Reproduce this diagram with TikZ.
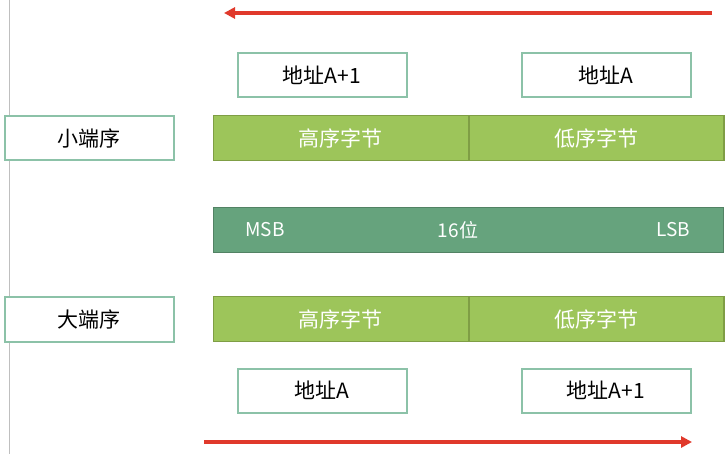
\documentclass[tikz,border=0pt]{standalone}
\usepackage{fontspec}
\setmainfont{Noto Sans CJK SC}
\usetikzlibrary{arrows.meta}
\definecolor{bord}{HTML}{8CC2A8}
\definecolor{barg}{HTML}{9DC55A}
\definecolor{bargd}{HTML}{7F9E45}
\definecolor{teal}{HTML}{66A37D}
\definecolor{reda}{HTML}{E0392B}
\tikzset{
 addr/.style={draw=bord,line width=2pt,fill=white,minimum width=169pt,minimum height=44pt,font=\fontsize{21}{24}\selectfont,inner sep=0pt},
 half/.style={draw=bargd,line width=1.5pt,fill=barg,minimum width=255pt,minimum height=45pt,text=white,font=\fontsize{21}{24}\selectfont,inner sep=0pt},
 redarrow/.style={draw=reda,line width=3.5pt,-{Triangle[length=11pt,width=11pt]}},
 wt/.style={text=white,font=\fontsize{19}{22}\selectfont}
}
\begin{document}
\begin{tikzpicture}[x=1pt,y=-1pt]
\useasboundingbox (0,0) rectangle (728,454);
\draw[gray!50,line width=1pt] (9,0) -- (9,454);
\coordinate (t1) at (712,13); \coordinate (t2) at (224,13);
\draw[redarrow] (t1) -- (t2);
\node[addr] (a1) at (322,75.5) {地址A+1};
\node[addr] (a2) at (606,75.5) {地址A};
\node[addr] (little) at (89,138.5) {小端序};
\node[half,anchor=west] (h1) at (212.5,138) {高序字节};
\node[half,anchor=west] (l1) at (468,138) {低序字节};
\node[draw=teal!80!black,line width=1.5pt,fill=teal,minimum width=510pt,minimum height=45pt,anchor=west] (bar) at (212.5,230) {};
\node[wt] (msb) at (265,230) {MSB};
\node[wt] (b16) at (458,230) {16位};
\node[wt] (lsb) at (673,230) {LSB};
\node[addr] (big) at (89,319.5) {大端序};
\node[half,anchor=west] (h2) at (212.5,319) {高序字节};
\node[half,anchor=west] (l2) at (468,319) {低序字节};
\node[addr] (b1) at (322,390.5) {地址A};
\node[addr] (b2) at (606,390.5) {地址A+1};
\coordinate (u1) at (204,442); \coordinate (u2) at (692,442);
\draw[redarrow] (u1) -- (u2);
\end{tikzpicture}
\end{document}
